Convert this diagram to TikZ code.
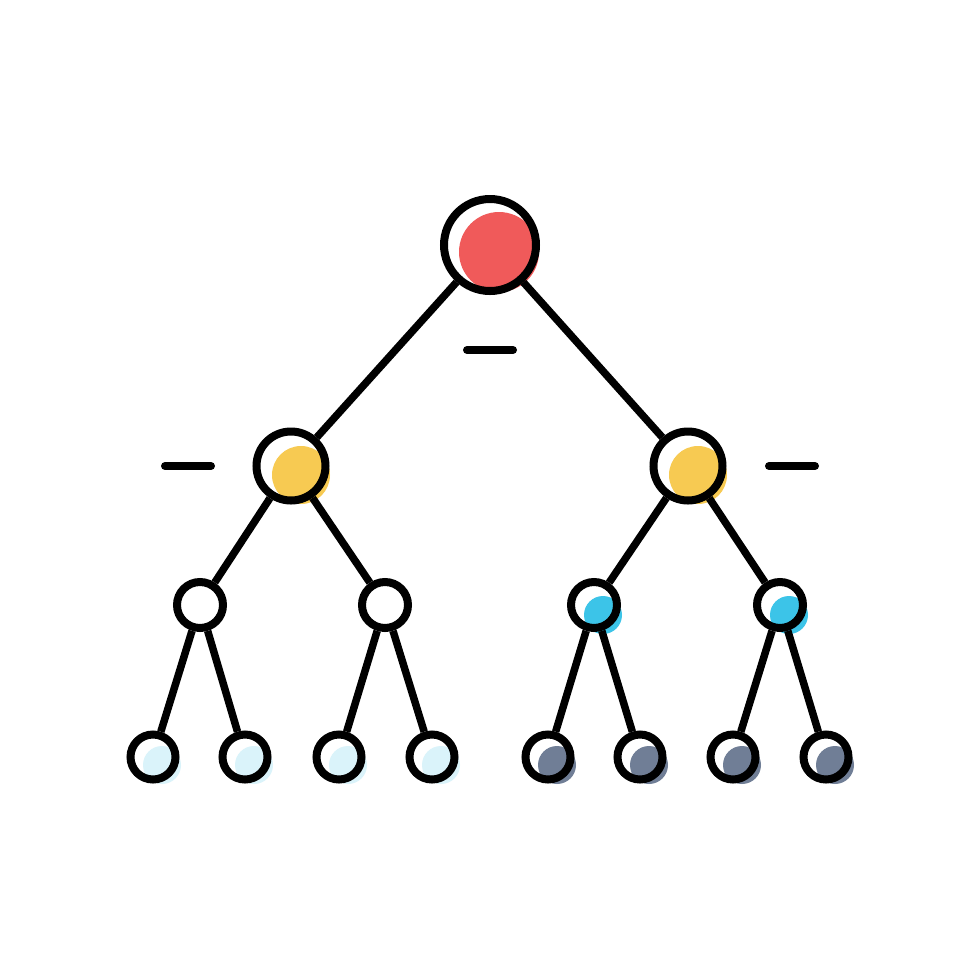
\documentclass[tikz,border=0pt]{standalone}
\usepackage{tikz}
\usetikzlibrary{calc}

\definecolor{hRed}{RGB}{240,90,90}
\definecolor{hYellow}{RGB}{247,202,82}
\definecolor{hCyan}{RGB}{60,196,232}
\definecolor{hLight}{RGB}{218,243,250}
\definecolor{hSlate}{RGB}{112,126,150}

\tikzset{
	ring/.style={circle, draw=black, line width=0.8mm, inner sep=0pt},
	link/.style={line width=0.75mm, draw=black},
	dashmark/.style={line width=0.8mm, draw=black, line cap=round},
}

\begin{document}
\begin{tikzpicture}[x=0.1mm, y=-0.1mm]

	\useasboundingbox[fill=white] (0,0) rectangle (980,980);

	\pgfmathsetmacro{\ya}{245}
	\pgfmathsetmacro{\yb}{466}
	\pgfmathsetmacro{\yc}{605}
	\pgfmathsetmacro{\yd}{757}

	%% Livelli
	\coordinate[](root) at (490,\ya);
	\coordinate[](l) at (291,\yb);
	\coordinate[](r) at (688,\yb);
	\coordinate[](ll) at (200,\yc);
	\coordinate[](lr) at (385,\yc);
	\coordinate[](rl) at (594,\yc);
	\coordinate[](rr) at (780,\yc);

	% Riempimenti
	\fill[hRed] ($(root)+(9,7)$) circle (40);
	\fill[hYellow] ($(l)+(10,9)$) circle (29);
	\fill[hYellow] ($(r)+(10,9)$) circle (29);
	\fill[hCyan] ($(rl)+(9,10)$) circle (19);
	\fill[hCyan] ($(rr)+(9,10)$) circle (19);
	\foreach \x in {153,245,339,432}
	{
	\fill[hLight] (\x+9,\yd+8) circle (19);
	}
	\foreach \x in {548,640,733,826}
	{
	\fill[hSlate] (\x+9,\yd+8) circle (19);
	}

	% Nodi
	\node[ring, minimum size=9.2mm] (nroot) at (root) {};
	\node[ring, minimum size=6.9mm] (nl) at (l) {};
	\node[ring, minimum size=6.9mm] (nr) at (r) {};
	\node[ring, minimum size=4.6mm] (nll) at (ll) {};
	\node[ring, minimum size=4.6mm] (nlr) at (lr) {};
	\node[ring, minimum size=4.6mm] (nrl) at (rl) {};
	\node[ring, minimum size=4.6mm] (nrr) at (rr) {};
	\foreach \n/\x in {1/153,2/245,3/339,4/432,5/548,6/640,7/733,8/826}
	{
	\node[ring, minimum size=4.5mm] (f\n) at (\x,\yd) {};
	}

	%% Rami
	\draw[link] (nroot) -- (nl);
	\draw[link] (nroot) -- (nr);
	\draw[link] (nl) -- (nll);
	\draw[link] (nl) -- (nlr);
	\draw[link] (nr) -- (nrl);
	\draw[link] (nr) -- (nrr);
	\draw[link] (nll) -- (f1);
	\draw[link] (nll) -- (f2);
	\draw[link] (nlr) -- (f3);
	\draw[link] (nlr) -- (f4);
	\draw[link] (nrl) -- (f5);
	\draw[link] (nrl) -- (f6);
	\draw[link] (nrr) -- (f7);
	\draw[link] (nrr) -- (f8);

	% Trattini
	\draw[dashmark] (467,350) -- (513,350);
	\draw[dashmark] (165,466) -- (211,466);
	\draw[dashmark] (769,466) -- (815,466);

\end{tikzpicture}
\end{document}
